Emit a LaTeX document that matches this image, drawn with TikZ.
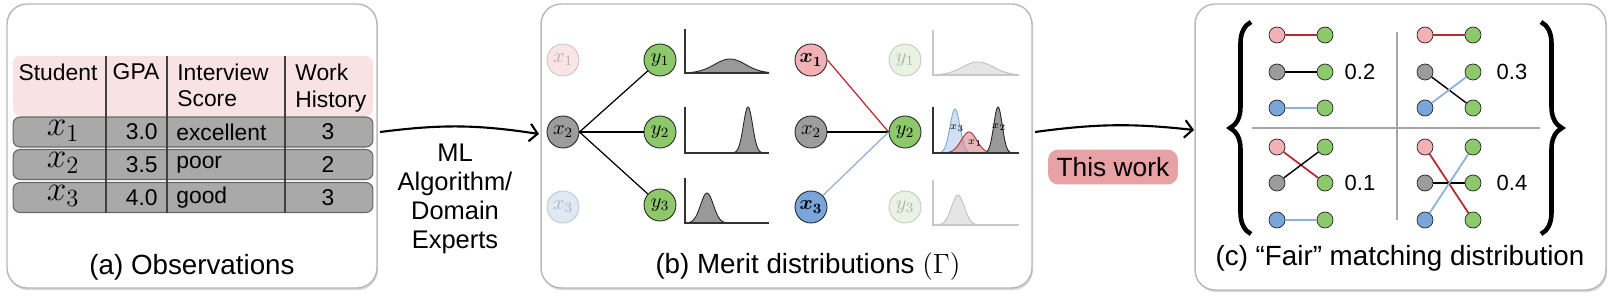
\documentclass[tikz,border=0pt]{standalone}
\usepackage{fix-cm}
\usepackage{amsmath}
\usepackage{bm}
\usepackage[no-math]{fontspec}
\setmainfont{Liberation Sans}
\usepackage{tikz}
\usetikzlibrary{arrows.meta,positioning,shadows,decorations.pathreplacing}

\definecolor{headPink}{HTML}{F9E2E4}
\definecolor{rowGray}{HTML}{A9A9A9}
\definecolor{nodePink}{HTML}{F3B1B5}
\definecolor{nodeGray}{HTML}{9C9C9C}
\definecolor{nodeGreen}{HTML}{8DC86A}
\definecolor{nodeBlue}{HTML}{79A6DA}
\definecolor{edgeRed}{HTML}{B82A2F}
\definecolor{edgeBlue}{HTML}{8DB1DA}
\definecolor{workPink}{HTML}{E8A2A5}

\begin{document}
\begin{tikzpicture}[
  x=0.02cm, y=-0.02cm,
  declare function={bell(\p,\m,\s)=exp(-((\p-\m)/\s)*((\p-\m)/\s));},
  every node/.style={font=\fontsize{13}{15}\selectfont, inner sep=0pt},
  panel/.style={draw=black!28, line width=0.8pt, fill=white, rounded corners=0.4cm,
    drop shadow={shadow xshift=0.6pt, shadow yshift=-1.2pt, opacity=0.3}},
  caption/.style={font=\fontsize{15.8}{18}\selectfont},
  headRow/.style={fill=headPink, rounded corners=4pt, minimum width=7.2cm,
    minimum height=1.2cm},
  dataRow/.style={fill=rowGray, draw=black!60, line width=0.6pt, rounded corners=4pt,
    minimum width=7.2cm, minimum height=0.6cm},
  colSep/.style={black!75, line width=0.7pt},
  bigX/.style={font=\fontsize{20}{22}\selectfont},
  merit/.style={circle, draw=black!85, line width=0.5pt, minimum size=0.64cm,
    font=\fontsize{11.5}{13}\selectfont},
  meritFade/.style={merit, draw=black!22, text=black!30},
  axisLine/.style={black!80, line width=0.6pt},
  axisFade/.style={black!22, line width=0.6pt},
  distFill/.style={fill=black!40, draw=black!85, line width=0.5pt},
  distFade/.style={fill=black!10, draw=black!25, line width=0.5pt},
  tinyLabel/.style={font=\fontsize{6}{7}\selectfont},
  pairEdge/.style={black, line width=0.7pt},
  redEdge/.style={edgeRed, line width=0.7pt},
  blueEdge/.style={edgeBlue, line width=0.7pt},
  dot/.style={circle, draw=black!85, line width=0.4pt, minimum size=0.32cm},
  matchRed/.style={edgeRed, line width=1pt},
  matchBlack/.style={black, line width=0.8pt},
  matchBlue/.style={edgeBlue, line width=1pt},
  quadSep/.style={black!35, line width=0.6pt},
  bigBrace/.style={decorate, decoration={brace, amplitude=0.42cm}, line width=2.6pt},
  flowArrow/.style={-{Straight Barb[length=4.5pt,width=10pt]}, line width=1.2pt},
  prob/.style={font=\fontsize{12.5}{15}\selectfont}
]
\useasboundingbox (0,0) rectangle (1614,301);

\node[panel, minimum width=7.4cm, minimum height=5.68cm] (panelObs) at (192,146) {};
\node[panel, minimum width=9.82cm, minimum height=5.68cm] (panelMerit) at (786.5,146) {};
\node[panel, minimum width=8.22cm, minimum height=5.72cm] (panelFair) at (1400.5,147) {};

% (a) observation table
\node[headRow] (headBar) at (193,86) {};
\node[dataRow] (rowA) at (193,132) {};
\node[dataRow] (rowB) at (193,164.5) {};
\node[dataRow] (rowC) at (193,197.5) {};
\draw[colSep] (106,0 |- headBar.north) -- (106,0 |- rowC.south);
\draw[colSep] (167,0 |- headBar.north) -- (167,0 |- rowC.south);
\draw[colSep] (285,0 |- headBar.north) -- (285,0 |- rowC.south);

\node (hStudent) at (58,72) {Student};
\node (hGpa) at (136,72) {GPA};
\node[anchor=north west, align=left, font=\fontsize{13}{14.8}\selectfont]
  (hInterview) at (177,64) {Interview\\Score};
\node[anchor=north west, align=left, font=\fontsize{13}{15.4}\selectfont]
  (hWork) at (295,64) {Work\\History};

\node[bigX] (tx1) at (63,131) {$x_1$};
\node[anchor=east] (gpa1) at (158,132) {3.0};
\node[anchor=west] (int1) at (176,132) {excellent};
\node (work1) at (328,132) {3};
\node[bigX] (tx2) at (63,163) {$x_2$};
\node[anchor=east] (gpa2) at (158,164.5) {3.5};
\node[anchor=west] (int2) at (176,164.5) {poor};
\node (work2) at (328,164.5) {2};
\node[bigX] (tx3) at (63,196) {$x_3$};
\node[anchor=east] (gpa3) at (158,197.5) {4.0};
\node[anchor=west] (int3) at (176,197.5) {good};
\node (work3) at (328,197.5) {3};

\node[caption] (capObs) at (192,267) {(a) Observations};

% ML step
\coordinate (mlStart) at (380,132);
\coordinate (mlEnd) at (539,134);
\draw[flowArrow] (mlStart) to[bend left=8] (mlEnd);
\node[align=center, font=\fontsize{14.5}{16.6}\selectfont] (mlText) at (455,199)
  {ML\\Algorithm/\\Domain\\Experts};

% (b) merit distributions, left half
\node[meritFade, fill=nodePink!35] (xa1) at (563,60) {$x_1$};
\node[merit, fill=nodeGray] (xa2) at (563,132) {$x_2$};
\node[meritFade, fill=nodeBlue!25] (xa3) at (563,207) {$x_3$};
\node[merit, fill=nodeGreen] (ya1) at (660,60) {$y_1$};
\node[merit, fill=nodeGreen] (ya2) at (660,132) {$y_2$};
\node[merit, fill=nodeGreen] (ya3) at (660,205) {$y_3$};
\draw[pairEdge] (xa2.east) -- (ya1);
\draw[pairEdge] (xa2.east) -- (ya2);
\draw[pairEdge] (xa2.east) -- (ya3);

\filldraw[distFill] plot[domain=685:769, samples=60] (\x, {73-14*bell(\x,730,22)}) -- cycle;
\filldraw[distFill] plot[domain=727:767, samples=60] (\x, {153-46*bell(\x,748,6.5)}) -- cycle;
\filldraw[distFill] plot[domain=685:735, samples=60] (\x, {223-30*bell(\x,707,9)}) -- cycle;
\draw[axisLine] (685,29) -- (685,73) -- (769,73);
\draw[axisLine] (685,107) -- (685,153) -- (769,153);
\draw[axisLine] (685,178) -- (685,223) -- (769,223);

% (b) right half
\node[merit, fill=nodePink] (xb1) at (811,60) {$\bm{x_1}$};
\node[merit, fill=nodeGray] (xb2) at (811,132) {$x_2$};
\node[merit, fill=nodeBlue] (xb3) at (811,207) {$\bm{x_3}$};
\node[meritFade, fill=nodeGreen!20] (yb1) at (905,60) {$y_1$};
\node[merit, fill=nodeGreen] (yb2) at (905,132) {$y_2$};
\node[meritFade, fill=nodeGreen!20] (yb3) at (905,207) {$y_3$};
\draw[redEdge] (xb1.east) -- (yb2.west);
\draw[pairEdge] (xb2) -- (yb2);
\draw[blueEdge] (xb3) -- (yb2.west);

\filldraw[distFade] plot[domain=933:1019, samples=60] (\x, {75-13*bell(\x,978,22)}) -- cycle;
\filldraw[fill=nodeBlue!35, draw=nodeBlue, line width=0.5pt]
  plot[domain=938:980, samples=60] (\x, {153-44*bell(\x,955,7)}) -- cycle;
\filldraw[distFill] plot[domain=978:1016, samples=60] (\x, {153-46*bell(\x,998,6)}) -- cycle;
\filldraw[fill=edgeRed!55, fill opacity=0.6, draw=edgeRed, line width=0.5pt]
  plot[domain=943:994, samples=60] (\x, {153-21*bell(\x,969,11)}) -- cycle;
\filldraw[distFade] plot[domain=933:990, samples=60] (\x, {225-30*bell(\x,958,9)}) -- cycle;
\draw[axisFade] (933,30) -- (933,75) -- (1019,75);
\draw[axisLine] (933,107) -- (933,153) -- (1019,153);
\draw[axisFade] (933,180) -- (933,225) -- (1019,225);
\node[tinyLabel] (lblX3) at (957,128) {$x_3$};
\node[tinyLabel] (lblX1) at (975,143) {$x_1$};
\node[tinyLabel] (lblX2) at (999,127) {$x_2$};

\node[caption] (capMerit) at (808,267) {(b) Merit distributions $(\Gamma)$};

% our step
\coordinate (workStart) at (1035,132);
\coordinate (workEnd) at (1194,130);
\draw[flowArrow] (workStart) to[bend left=7] (workEnd);
\node[fill=workPink, rounded corners=6pt, minimum width=2.6cm, minimum height=0.7cm,
  font=\fontsize{15}{17}\selectfont] (thisWork) at (1113,167) {This work};

% (c) matchings
\draw[bigBrace] (1251,234) -- (1251,22);
\draw[bigBrace] (1541,22) -- (1541,234);
\draw[quadSep] (1252,128) -- (1540,128);
\draw[quadSep] (1397,32) -- (1397,220);

\node[dot, fill=nodePink] (lA1) at (1277,35) {};
\node[dot, fill=nodeGray] (lA2) at (1277,72) {};
\node[dot, fill=nodeBlue] (lA3) at (1277,108) {};
\node[dot, fill=nodeGreen] (rA1) at (1325,35) {};
\node[dot, fill=nodeGreen] (rA2) at (1325,72) {};
\node[dot, fill=nodeGreen] (rA3) at (1325,108) {};
\draw[matchRed] (lA1) -- (rA1);
\draw[matchBlack] (lA2) -- (rA2);
\draw[matchBlue] (lA3) -- (rA3);
\node[prob] (pA) at (1360,72) {0.2};

\node[dot, fill=nodePink] (lB1) at (1425,35) {};
\node[dot, fill=nodeGray] (lB2) at (1425,72) {};
\node[dot, fill=nodeBlue] (lB3) at (1425,108) {};
\node[dot, fill=nodeGreen] (rB1) at (1473,35) {};
\node[dot, fill=nodeGreen] (rB2) at (1473,72) {};
\node[dot, fill=nodeGreen] (rB3) at (1473,108) {};
\draw[matchRed] (lB1) -- (rB1);
\draw[matchBlack] (lB2) -- (rB3);
\draw[matchBlue] (lB3) -- (rB2);
\node[prob] (pB) at (1512,72) {0.3};

\node[dot, fill=nodePink] (lC1) at (1277,147) {};
\node[dot, fill=nodeGray] (lC2) at (1277,183) {};
\node[dot, fill=nodeBlue] (lC3) at (1277,220) {};
\node[dot, fill=nodeGreen] (rC1) at (1325,147) {};
\node[dot, fill=nodeGreen] (rC2) at (1325,183) {};
\node[dot, fill=nodeGreen] (rC3) at (1325,220) {};
\draw[matchRed] (lC1) -- (rC2);
\draw[matchBlack] (lC2) -- (rC1);
\draw[matchBlue] (lC3) -- (rC3);
\node[prob] (pC) at (1360,183) {0.1};

\node[dot, fill=nodePink] (lD1) at (1425,147) {};
\node[dot, fill=nodeGray] (lD2) at (1425,183) {};
\node[dot, fill=nodeBlue] (lD3) at (1425,220) {};
\node[dot, fill=nodeGreen] (rD1) at (1473,147) {};
\node[dot, fill=nodeGreen] (rD2) at (1473,183) {};
\node[dot, fill=nodeGreen] (rD3) at (1473,220) {};
\draw[matchRed] (lD1) -- (rD3);
\draw[matchBlack] (lD2) -- (rD2);
\draw[matchBlue] (lD3) -- (rD1);
\node[prob] (pD) at (1512,183) {0.4};

\node[caption] (capFair) at (1400,258) {(c) “Fair” matching distribution};
\end{tikzpicture}
\end{document}
